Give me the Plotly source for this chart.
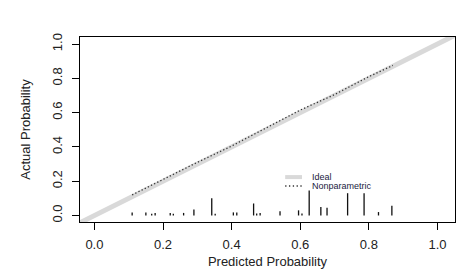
import plotly.graph_objects as go

# Ideal reference line (diagonal)
ideal_x = [-0.1, 1.1]
ideal_y = [-0.1, 1.1]

# Nonparametric calibration curve
np_x = [0.11, 0.20, 0.30, 0.40, 0.50, 0.60, 0.70, 0.80, 0.87]
np_y = [0.12, 0.21, 0.31, 0.405, 0.51, 0.615, 0.705, 0.81, 0.875]

# Spike histogram of predicted probabilities
spike_pos = [0.11, 0.15, 0.167, 0.177, 0.221, 0.23, 0.26, 0.29, 0.342, 0.352,
             0.405, 0.415, 0.464, 0.473, 0.483, 0.541, 0.595, 0.605, 0.626,
             0.66, 0.678, 0.738, 0.786, 0.828, 0.867]
spike_h = [0.018, 0.018, 0.01, 0.015, 0.015, 0.01, 0.015, 0.035, 0.10, 0.01,
           0.018, 0.018, 0.07, 0.012, 0.015, 0.024, 0.03, 0.012, 0.145,
           0.05, 0.045, 0.13, 0.13, 0.02, 0.057]

tick_vals = [0.0, 0.2, 0.4, 0.6, 0.8, 1.0]
tick_text = ["0.0", "0.2", "0.4", "0.6", "0.8", "1.0"]

legend_names = ["Ideal", "Nonparametric"]

FONT = "Liberation Sans, Arial, sans-serif"
IDEAL_COLOR = "#d9d9d9"
NP_COLOR = "#333333"

sx, sy = [], []
for p, h in zip(spike_pos, spike_h):
    sx += [p, p, None]
    sy += [0, h, None]

fig = go.Figure()
fig.add_trace(go.Scatter(x=ideal_x, y=ideal_y, mode="lines",
                         line=dict(color=IDEAL_COLOR, width=5),
                         showlegend=False, hoverinfo="skip"))
fig.add_trace(go.Scatter(x=np_x, y=np_y, mode="lines",
                         line=dict(color=NP_COLOR, width=1.3, dash="1.3px,2.2px"),
                         showlegend=False))
fig.add_trace(go.Scatter(x=sx, y=sy, mode="lines",
                         line=dict(color="#111111", width=1.3),
                         showlegend=False, hoverinfo="skip"))

# Manual legend (R-style, no frame)
lx0, lx1, ltx = 0.556, 0.605, 0.628
ly = [0.224, 0.172]
fig.add_shape(type="line", xref="x", yref="y", x0=lx0, x1=lx1, y0=ly[0], y1=ly[0],
              line=dict(color=IDEAL_COLOR, width=4))
fig.add_shape(type="line", xref="x", yref="y", x0=lx0, x1=lx1, y0=ly[1], y1=ly[1],
              line=dict(color=NP_COLOR, width=1.3, dash="1.3px,2.5px"))
for name, yv in zip(legend_names, ly):
    fig.add_annotation(x=ltx, y=yv, xref="x", yref="y", text=name, showarrow=False,
                       xanchor="left", yanchor="middle",
                       font=dict(family=FONT, size=9, color="#1a1a40"))

axis_common = dict(showgrid=False, zeroline=False, showline=True, mirror=True,
                   linecolor="black", linewidth=1, ticks="outside", ticklen=7,
                   tickcolor="black", tickwidth=1,
                   tickfont=dict(family=FONT, size=13, color="#222222"),
                   tickvals=tick_vals, ticktext=tick_text)

fig.update_layout(
    width=474, height=280,
    margin=dict(l=80, r=19, t=37, b=58),
    paper_bgcolor="white", plot_bgcolor="white",
    xaxis=dict(range=[-0.042, 1.051], ticklabelstandoff=3,
               title=dict(text="Predicted Probability", standoff=6,
                          font=dict(family=FONT, size=13, color="#222222")),
               **axis_common),
    yaxis=dict(range=[-0.038, 1.041], tickangle=-90, ticklabelstandoff=5,
               title=dict(text="Actual Probability", standoff=16,
                          font=dict(family=FONT, size=13, color="#222222")),
               **axis_common),
)

fig.write_html("out.html")
